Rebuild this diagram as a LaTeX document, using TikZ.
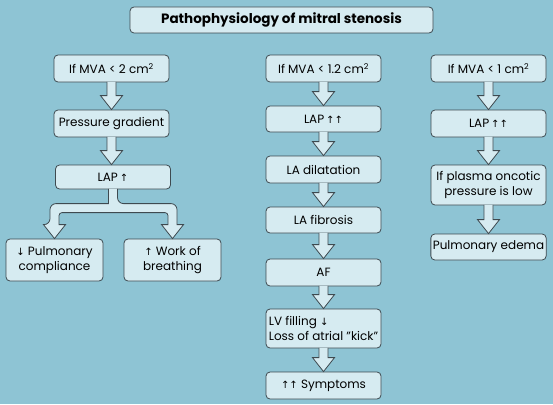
\documentclass[tikz,border=0pt]{standalone}
\usepackage{fontspec}
\setmainfont{Poppins}
\newfontfamily\arrowfont{DejaVu Sans}
\usetikzlibrary{calc}
\definecolor{bgblue}{RGB}{142,196,212}
\definecolor{boxfill}{RGB}{214,235,241}
\definecolor{boxline}{RGB}{62,74,80}
\newcommand{\uparr}{{\arrowfont\fontsize{10}{12}\selectfont ↑}}
\newcommand{\dnarr}{{\arrowfont\fontsize{10}{12}\selectfont ↓}}
% hollow block arrow from one box to the next
\newcommand{\flowarrow}[2]{%
  \draw[blockarrow] let \p1=(#1.south), \p2=(#2.north) in
    (\x1-4.5pt,\y1+0.6pt) -- (\x1-4.5pt,\y2+14pt) -- (\x1-11pt,\y2+14pt) -- (\x1,\y2)
    -- (\x1+11pt,\y2+14pt) -- (\x1+4.5pt,\y2+14pt) -- (\x1+4.5pt,\y1+0.6pt);}

\begin{document}
\begin{tikzpicture}[x=1pt, y=-1pt,
    box/.style={rectangle, rounded corners=4pt, draw=boxline, fill=boxfill, line width=0.8pt,
                minimum width=115pt, minimum height=27pt, inner sep=2pt, font=\fontsize{12}{15}\selectfont},
    smallbox/.style={box, minimum width=97pt, minimum height=42pt, align=center},
    titlebox/.style={box, minimum width=303pt, minimum height=26pt, font=\fontsize{13.5}{15}\selectfont\bfseries},
    blockarrow/.style={draw=boxline, fill=boxfill, line width=0.8pt, line join=miter}
]
\fill[bgblue] (0,0) rectangle (553,404);
\useasboundingbox (0,0) rectangle (553,404);

\node[titlebox] (title) at (281.5, 20) {Pathophysiology of mitral stenosis};

% left column
\node[box] (mva2) at (111.5, 68.5) {If MVA < 2 cm\textsuperscript{2}};
\node[box] (grad) at (111.5, 123.5) {Pressure gradient};
\node[box, minimum height=24pt] (lap1) at (113, 177) {LAP\,\uparr};
\node[smallbox] (compl) at (54.5, 260) {\dnarr\ Pulmonary\\compliance};
\node[smallbox] (work) at (172.5, 260) {\uparr\ Work of\\breathing};

% middle column
\node[box] (mva12) at (323.5, 68.5) {If MVA < 1.2 cm\textsuperscript{2}};
\node[box, minimum height=26pt] (lap2) at (323.5, 119) {LAP\,\uparr\uparr};
\node[box] (dilat) at (323.5, 169.5) {LA dilatation};
\node[box, minimum height=26pt] (fibr) at (323.5, 220) {LA fibrosis};
\node[box] (af) at (323.5, 272.5) {AF};
\node[box, minimum height=39pt, align=left] (lvfill) at (323.5, 328.5) {LV filling \dnarr\\Loss of atrial \symbol{"22}kick\symbol{"22}};
\node[box] (sympt) at (323.5, 385.5) {\uparr\uparr\ Symptoms};

% right column
\node[box] (mva1) at (488.5, 68.5) {If MVA < 1 cm\textsuperscript{2}};
\node[box] (lap3) at (488.5, 123.5) {LAP\,\uparr\uparr};
\node[box, minimum height=40pt, align=center] (oncot) at (488.5, 185) {If plasma oncotic\\pressure is low};
\node[box, minimum height=26pt] (edema) at (488.5, 247) {Pulmonary edema};

\flowarrow{mva2}{grad}
\flowarrow{grad}{lap1}
\flowarrow{mva12}{lap2}
\flowarrow{lap2}{dilat}
\flowarrow{dilat}{fibr}
\flowarrow{fibr}{af}
\flowarrow{af}{lvfill}
\flowarrow{lvfill}{sympt}
\flowarrow{mva1}{lap3}
\flowarrow{lap3}{oncot}
\flowarrow{oncot}{edema}

% split arrow under LAP
\draw[blockarrow] let \p1=(lap1.south), \p2=(compl.north), \p3=(work.north) in
    (\x1-4.5pt,\y1+0.6pt) -- (\x1-4.5pt,\y2+35pt)
    [rounded corners=6pt] -- (\x2-4.5pt,\y2+35pt) -- (\x2-4.5pt,\y2+14pt)
    [sharp corners] -- (\x2-11pt,\y2+14pt) -- (\x2,\y2) -- (\x2+11pt,\y2+14pt) -- (\x2+4.5pt,\y2+14pt)
    [rounded corners=3pt] -- (\x2+4.5pt,\y2+26pt) -- (\x3-4.5pt,\y3+26pt)
    [sharp corners] -- (\x3-4.5pt,\y3+14pt) -- (\x3-11pt,\y3+14pt) -- (\x3,\y3) -- (\x3+11pt,\y3+14pt) -- (\x3+4.5pt,\y3+14pt)
    [rounded corners=6pt] -- (\x3+4.5pt,\y3+35pt) -- (\x1+4.5pt,\y3+35pt)
    [sharp corners] -- (\x1+4.5pt,\y1+0.6pt);
\end{tikzpicture}
\end{document}
